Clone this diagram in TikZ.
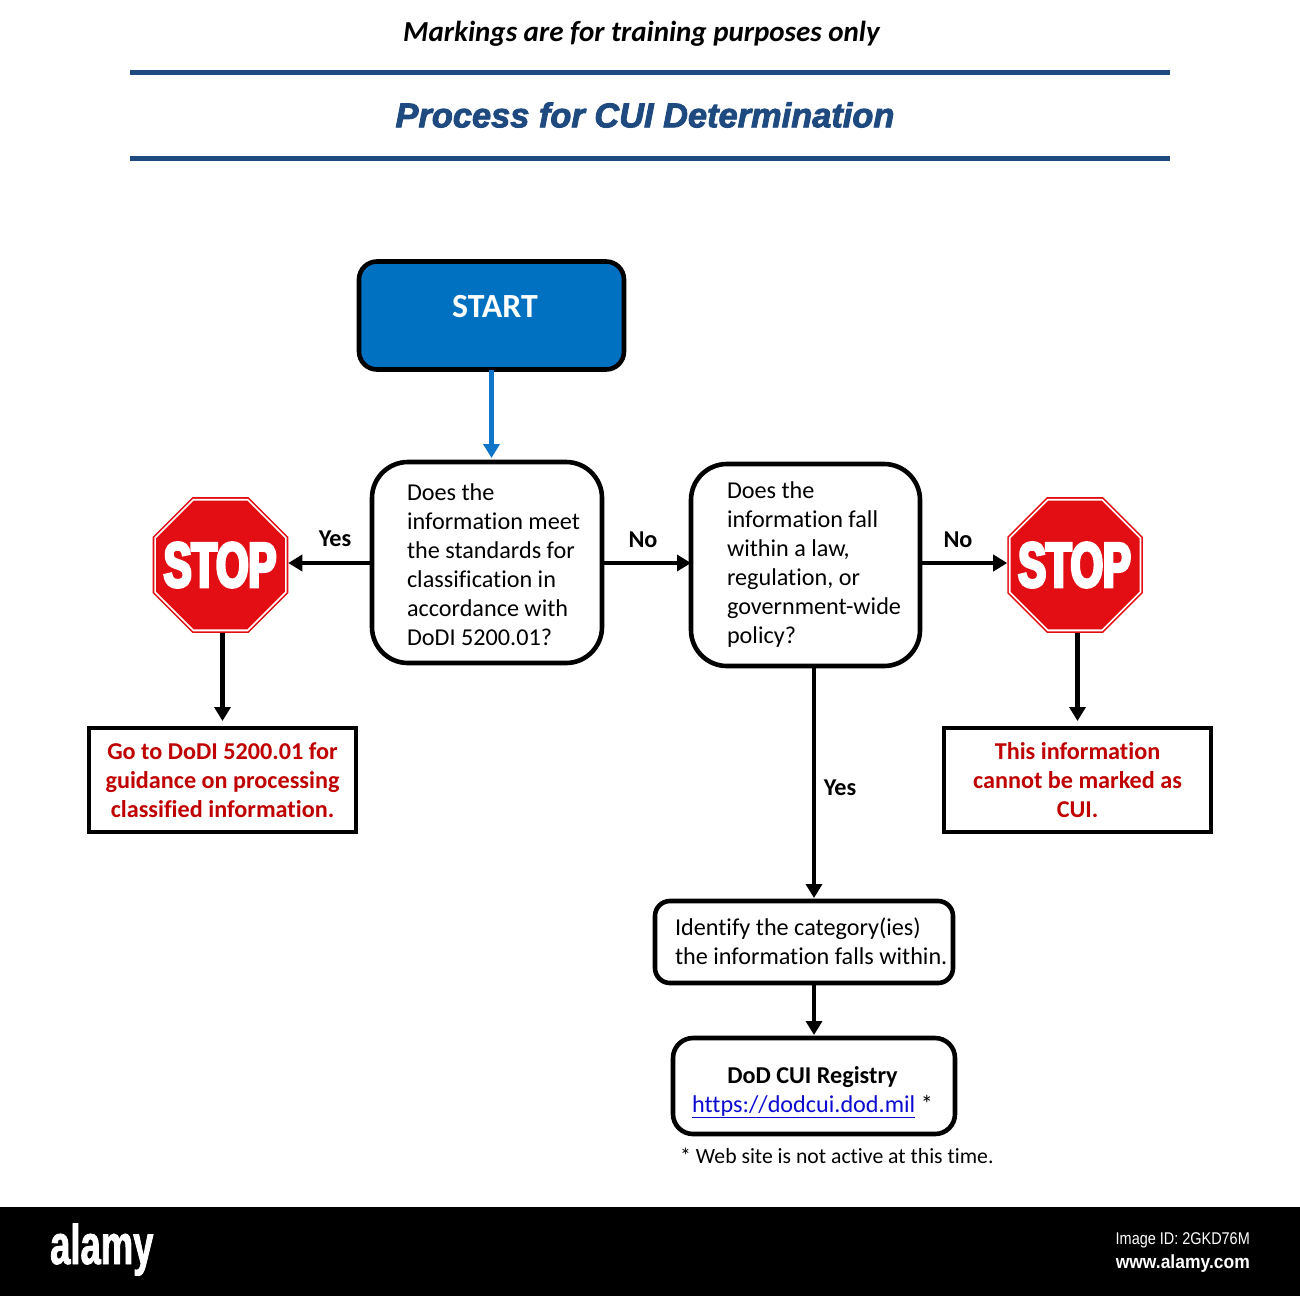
\documentclass[tikz,border=0pt]{standalone}
\usepackage{fontspec}
\setmainfont{Carlito}[Ligatures=CommonOff]
\newfontfamily\titlefont{Liberation Sans Bold Italic}[FakeBold=2.5]
\newfontfamily\stopfont{Liberation Sans Bold}[FakeStretch=0.66,FakeBold=5]
\newfontfamily\logofont{Liberation Sans Bold}[FakeStretch=0.65,FakeBold=1.5]
\newfontfamily\idfont{Liberation Sans}[FakeStretch=0.85]
\newfontfamily\wwwfont{Liberation Sans Bold}[FakeStretch=0.92]
\usepackage{xcolor}
\usetikzlibrary{arrows.meta,shapes.geometric}
\definecolor{navy}{HTML}{1F4A80}
\definecolor{startblue}{HTML}{0070C0}
\definecolor{arrowblue}{HTML}{0F75C8}
\definecolor{stopred}{HTML}{E30D14}
\definecolor{warnred}{HTML}{C00000}
\definecolor{linkblue}{HTML}{0B0BD0}
\newcommand{\bodyfont}{\fontsize{24.2}{29}\selectfont}
\tikzset{
  x=1pt,y=-1pt,
  lbl/.style={inner sep=0,outer sep=0,font=\bodyfont,align=left,text=black},
  tag/.style={lbl,font=\bodyfont\bfseries},
  flowbox/.style={draw=black,line width=4.6pt,fill=white,inner sep=0,outer sep=0,align=center,font=\bodyfont},
  warnbox/.style={flowbox,font=\bodyfont\bfseries,text=warnred},
  flow/.style={draw=black,line width=4.4pt,-{Triangle[length=14pt,width=16pt]}},
  rulebar/.style={draw=navy,line width=5pt},
  signpoly/.style={regular polygon,regular polygon sides=8,inner sep=0,outer sep=0,draw=none},
  signrim/.style={signpoly,minimum size=146.7pt,fill=stopred},
  signring/.style={signpoly,minimum size=143.4pt,fill=white},
  signface/.style={signpoly,minimum size=139.6pt,fill=stopred},
  signtext/.style={inner sep=0,outer sep=0,text=white,font=\stopfont\fontsize{63}{63}\selectfont},
}
\begin{document}
\begin{tikzpicture}
\useasboundingbox (0,0) rectangle (1300,1296);
\fill[white] (0,0) rectangle (1300,1296);
\fill[black] (0,1207) rectangle (1300,1296);

% heading
\node[inner sep=0,font=\fontsize{29}{32}\selectfont\bfseries\itshape] (mark) at (641.5,34) {Markings are for training purposes only};
\coordinate (r1a) at (130,72.5); \coordinate (r1b) at (1170,72.5);
\coordinate (r2a) at (130,158.5); \coordinate (r2b) at (1170,158.5);
\draw[rulebar] (r1a) -- (r1b);
\draw[rulebar] (r2a) -- (r2b);
\node[inner sep=0,text=navy,font=\titlefont\fontsize{34.4}{38}\selectfont] (title) at (645,115) {Process for CUI Determination};

% boxes
\node[flowbox,rounded corners=18pt,fill=startblue,minimum width=265pt,minimum height=108pt] (start) at (491.5,315.5) {};
\node[inner sep=0,text=white,font=\fontsize{33.8}{36}\selectfont\bfseries] (startt) at (495,307) {START};
\node[flowbox,rounded corners=36pt,minimum width=230pt,minimum height=201pt] (d1) at (487,562.5) {};
\node[lbl,anchor=north west] (d1t) at (407,484) {Does the\\information meet\\the standards for\\classification in\\accordance with\\DoDI 5200.01?};
\node[flowbox,rounded corners=36pt,minimum width=229pt,minimum height=202pt] (d2) at (805.5,565) {};
\node[lbl,anchor=north west] (d2t) at (727,482) {Does the\\information fall\\within a law,\\regulation, or\\government-wide\\policy?};

\node[warnbox,minimum width=267pt,minimum height=104pt] (w1) at (222.5,780) {\raisebox{0.5pt}{Go to DoDI 5200.01 for}\\guidance on processing\\classified information.};
\node[warnbox,minimum width=267pt,minimum height=104pt] (w2) at (1077.5,780) {This information\\cannot be marked as\\CUI.};
\node[flowbox,rounded corners=15pt,minimum width=298pt,minimum height=82pt] (b3) at (804,942) {};
\node[lbl,anchor=north west] (b3t) at (675,917.5) {Identify the category(ies)\\the information falls within.};
\node[flowbox,rounded corners=20pt,minimum width=282pt,minimum height=96pt] (b4) at (814,1086) {};
\node[lbl,align=center] (b4t) at (812.5,1092) {\textbf{DoD CUI Registry}\\{\color{linkblue}\underline{https://dodcui.dod.mil}} *};
\node[inner sep=0,anchor=west,font=\fontsize{21.7}{25}\selectfont] (note) at (680,1156) {* Web site is not active at this time.};

% stop signs
\node[signrim] (s1) at (220.5,565) {};
\node[signring] (s1w) at (220.5,565) {};
\node[signface] (s1f) at (220.5,565) {};
\node[signtext] (s1t) at (220,565) {STOP};
\node[signrim] (s2) at (1075,565) {};
\node[signring] (s2w) at (1075,565) {};
\node[signface] (s2f) at (1075,565) {};
\node[signtext] (s2t) at (1074.5,565) {STOP};

% connectors
\draw[flow,draw=arrowblue] (start.south) -- ([yshift=4pt]d1.north -| start.south);
\draw[flow] ([yshift=-0.5pt]d1.west) -- ([yshift=-0.5pt]d1.west -| s1.east);
\draw[flow] ([yshift=-0.5pt]d1.east) -- ([yshift=-0.5pt]d1.east -| d2.west);
\draw[flow] ([yshift=2pt]d2.east) -- ([yshift=2pt]d2.east -| s2.west);
\draw[flow] (w1.north |- s1.south) -- ([yshift=7pt]w1.north);
\draw[flow] (w2.north |- s2.south) -- ([yshift=7pt]w2.north);
\draw[flow] (b4.north |- d2.south) -- ([yshift=3pt]b4.north |- b3.north);
\draw[flow] (b4.north |- b3.south) -- ([yshift=3pt]b4.north);

% connector labels
\node[tag] (ly1) at (335,539) {Yes};
\node[tag] (ln1) at (643,540) {No};
\node[tag] (ln2) at (958,540) {No};
\node[tag] (ly2) at (840,788) {Yes};

% footer
\node[inner sep=0,anchor=base west,text=white,font=\logofont\fontsize{56}{56}\selectfont] (alamy) at (50,1264) {alamy};
\node[inner sep=0,anchor=base east,text=white,font=\idfont\fontsize{17}{20}\selectfont] (imgid) at (1250,1244) {Image ID: 2GKD76M};
\node[inner sep=0,anchor=base east,text=white,font=\wwwfont\fontsize{19}{22}\selectfont] (www) at (1250,1268) {www.alamy.com};
\end{tikzpicture}
\end{document}
